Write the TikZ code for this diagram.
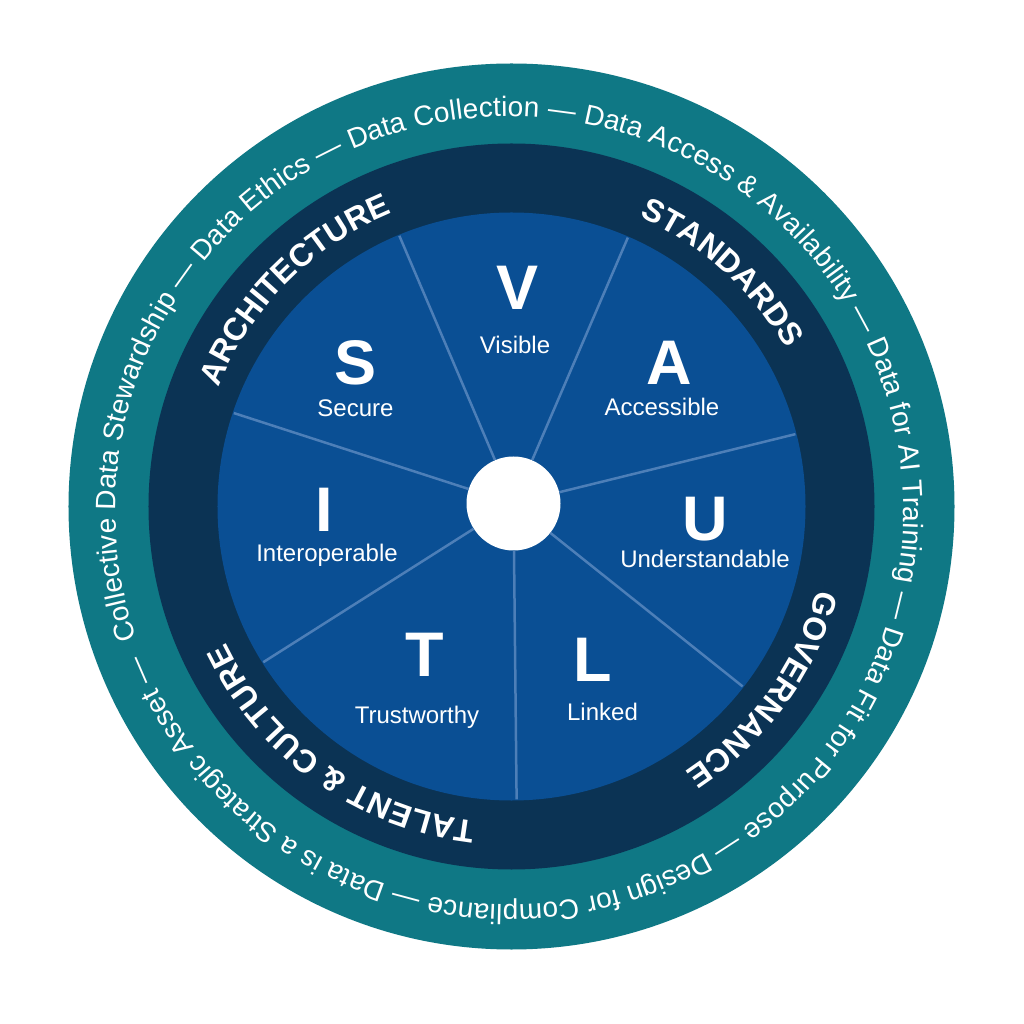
\documentclass[tikz,border=0pt]{standalone}
\usepackage{fontspec}
\setmainfont{Liberation Sans}
\usetikzlibrary{decorations.text}
\definecolor{ringteal}{HTML}{0F7885}
\definecolor{ringnavy}{HTML}{0B3354}
\definecolor{wheelblue}{HTML}{0A4F94}
\definecolor{spokeblue}{HTML}{4D7FB8}
\begin{document}
\begin{tikzpicture}[x=1pt,y=1pt,
    letter/.style={text=white,font=\bfseries\fontsize{63}{63}\selectfont,anchor=base,inner sep=0pt},
    caption/.style={text=white,font=\fontsize{24}{24}\selectfont,anchor=base,inner sep=0pt},
    spoke/.style={spokeblue,line width=2.5pt},
    pillar/.style={decorate,decoration={text along path,text color=white,text align=center,
        text={|\bfseries\fontsize{32}{32}\selectfont|#1}}},
    motto/.style={decorate,decoration={text along path,text color=white,text align=fit to path,
        text={|\fontsize{28}{28}\selectfont|#1}}}]
  \useasboundingbox (-511.5,-517.5) rectangle (512.5,506.5);
  \fill[white] (-511.5,-517.5) rectangle (512.5,506.5);

  % rings
  \fill[ringteal] (0,0) circle [radius=443];
  \fill[ringnavy] (0,0) circle [radius=363];
  \fill[wheelblue] (0,0) circle [radius=294];

  \node[circle,fill=white,minimum size=94pt,inner sep=0pt] (hub) at (2,3) {};
  \foreach \a in {112.5,66.6,14.3,-37.9,-89,212.1,161.4}{
    \draw[spoke] (hub) -- (\a:293);
  }

  \node[letter] (V) at (6.5,196.5) {V};
  \node[caption] (visible) at (3.5,152.5) {Visible};
  \node[letter] (S) at (-156,122) {S};
  \node[caption] (secure) at (-156,89.5) {Secure};
  \node[letter] (A) at (157.5,122) {A};
  \node[caption] (accessible) at (150.5,90.5) {Accessible};
  \node[letter] (I) at (-187.5,-25) {I};
  \node[caption] (interop) at (-184.5,-55.5) {Interoperable};
  \node[letter] (U) at (193.5,-34) {U};
  \node[caption] (underst) at (193.5,-61.5) {Understandable};
  \node[letter] (T) at (-86.5,-170) {T};
  \node[caption] (trust) at (-94.5,-217) {Trustworthy};
  \node[letter] (L) at (81.5,-174.5) {L};
  \node[caption] (linked) at (91,-213.5) {Linked};

  % pillars on the dark ring
  \path[pillar=ARCHITECTURE] (195:316.5) arc [start angle=195,end angle=75,radius=316.5];
  \path[pillar=STANDARDS] (108:316.5) arc [start angle=108,end angle=-12,radius=316.5];
  \path[pillar=GOVERNANCE] (24:316.5) arc [start angle=24,end angle=-96,radius=316.5];
  \path[pillar={TALENT {\&} CULTURE}] (294.5:316.5) arc [start angle=294.5,end angle=174.5,radius=316.5];

  % principles on the outer ring
  \path[shift={(-2,-4)},motto={Collective Data Stewardship — Data Ethics — Data Collection — Data Access {\&} Availability — Data for AI Training — Data Fit for Purpose — Design for Compliance — Data is a Strategic Asset —}]
    (199:394) arc [start angle=199,end angle=-158.5,radius=394];
\end{tikzpicture}
\end{document}
